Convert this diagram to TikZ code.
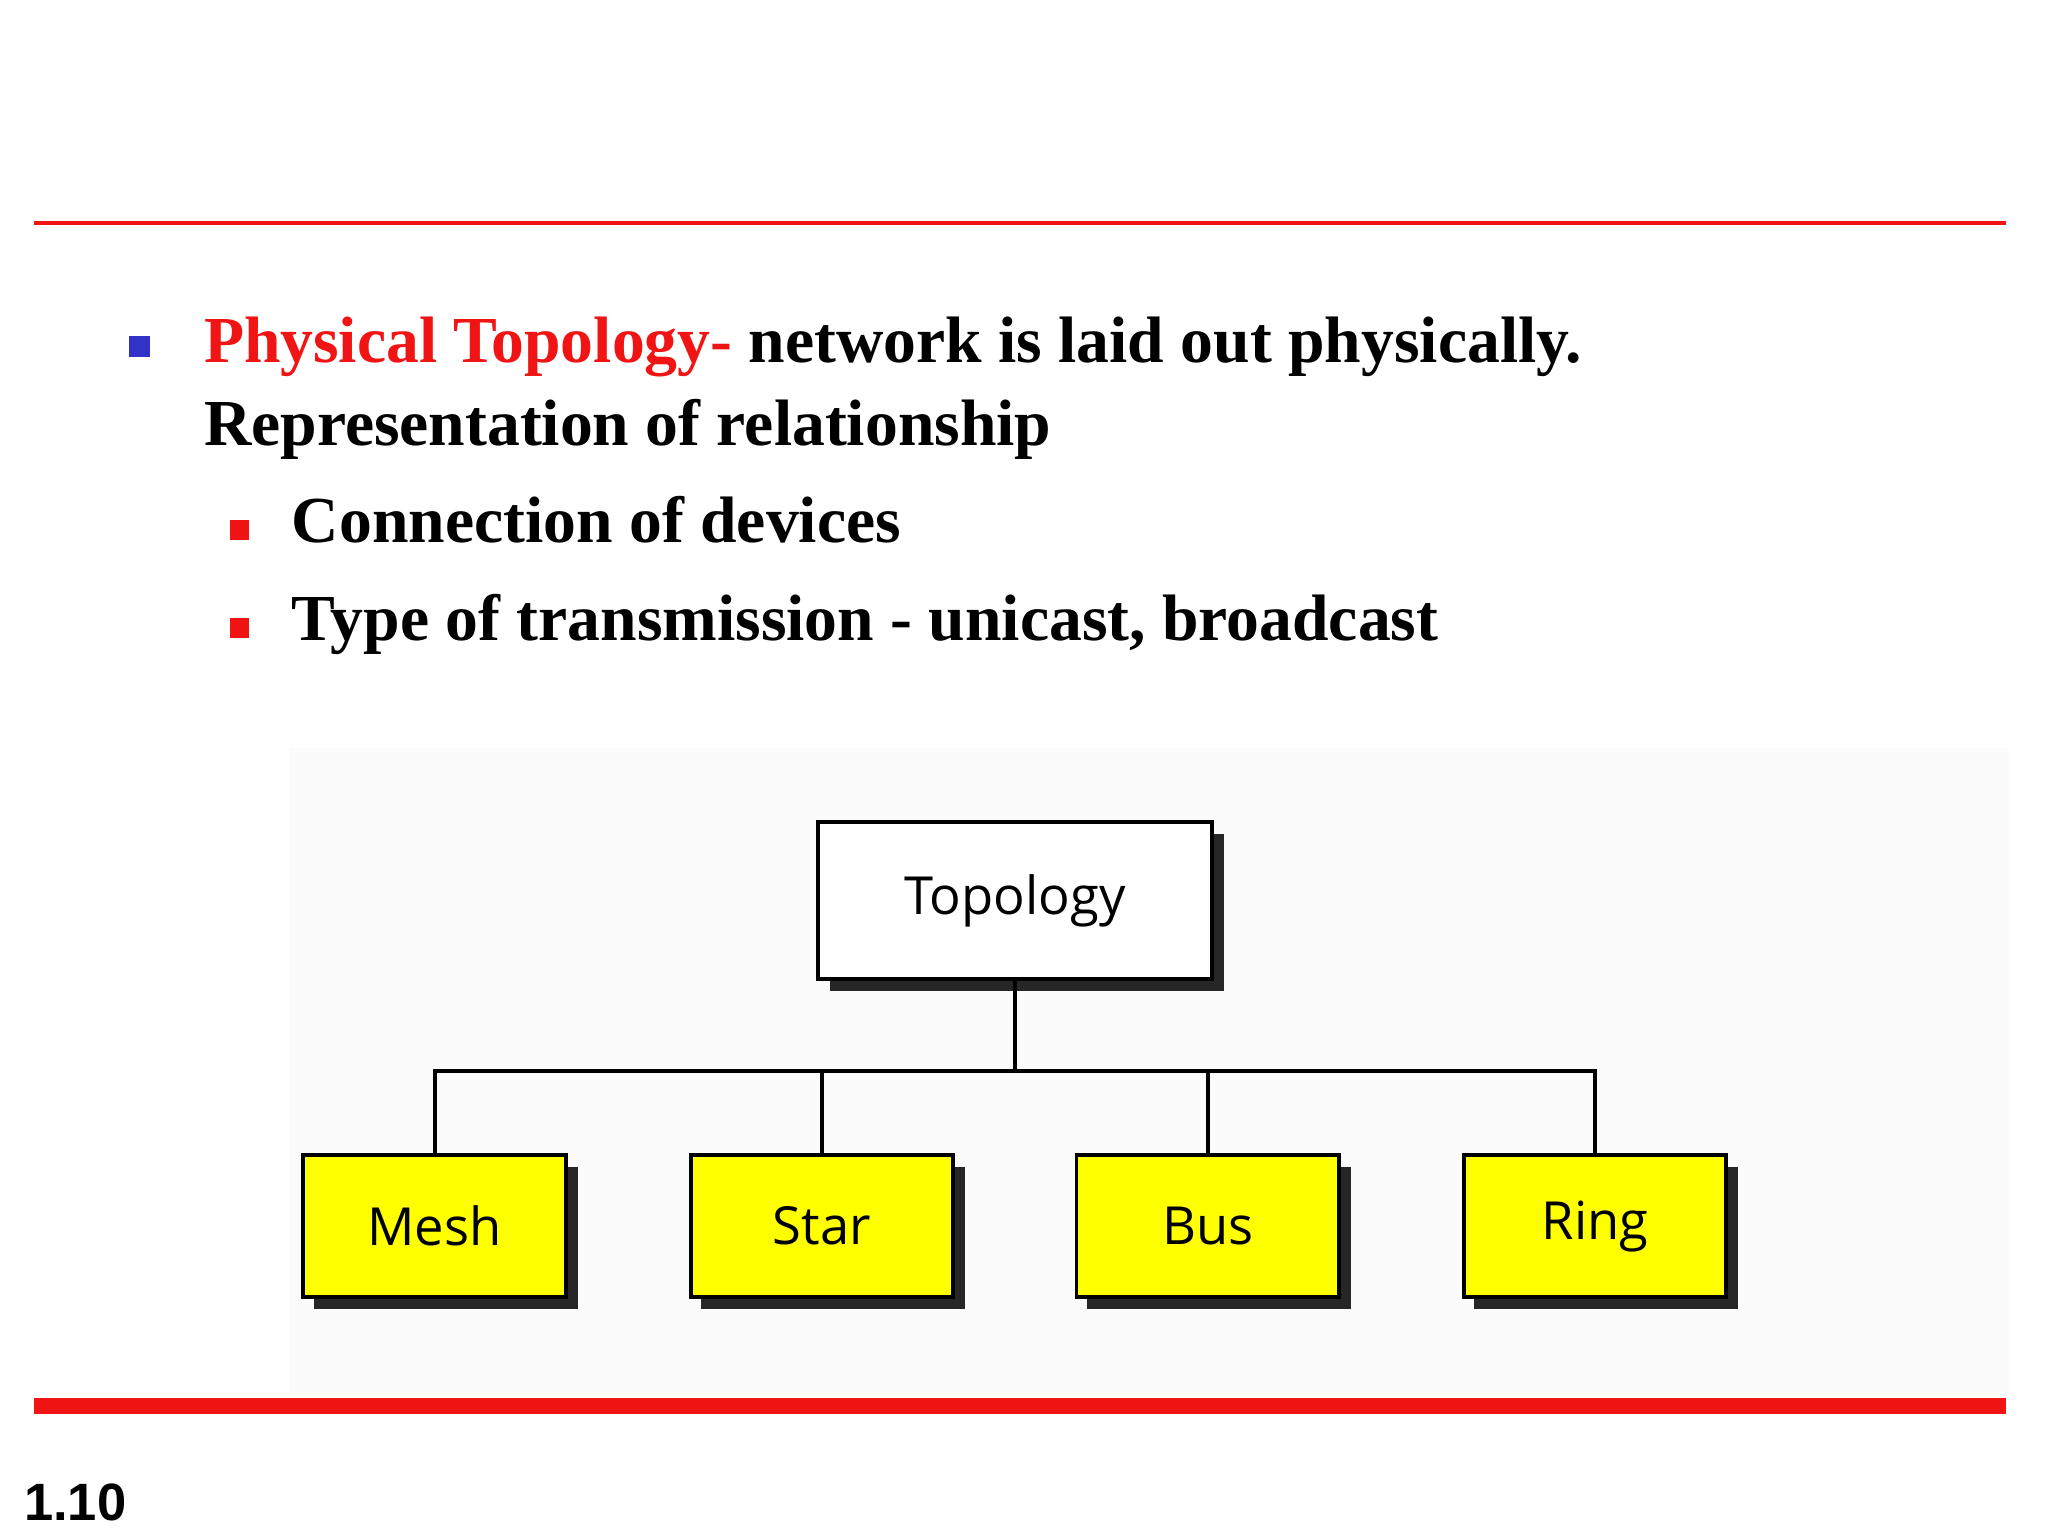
\documentclass[tikz,border=0pt]{standalone}
\usepackage{fontspec}
\setmainfont{Liberation Serif}
\newfontfamily\boxfont{Open Sans}
\newfontfamily\numfont{Liberation Sans}
\definecolor{ttlred}{RGB}{240,20,20}
\definecolor{bblue}{RGB}{50,50,200}
\definecolor{boxyel}{RGB}{255,255,0}
\begin{document}
\begin{tikzpicture}[x=0.5pt,y=-0.5pt,
  tbox/.style={draw=black,line width=1.5pt,inner sep=0pt,font=\boxfont\fontsize{20}{24}\selectfont},
  shad/.style={fill=black!85},
  txt/.style={anchor=base west,inner sep=0pt,font=\bfseries\fontsize{25}{30}\selectfont}]
\useasboundingbox (0,0) rectangle (1560,1170);
\fill[white] (0,0) rectangle (1560,1170);
\fill[black!1.5] (220,570) rectangle (1530,1060);
\draw[ttlred,line width=1.5pt] (26,170) -- (1528,170);
\fill[ttlred] (26,1065) rectangle (1528,1077);
% bullets
\fill[bblue] (98,256) rectangle (114,272);
\fill[ttlred] (175,396) rectangle (190,411);
\fill[ttlred] (175,471) rectangle (190,486);
\node[txt] (l1) at (155,276) {\textcolor{ttlred}{Physical Topology-} network is laid out physically.};
\node[txt] (l2) at (155,339) {Representation of relationship};
\node[txt] (l3) at (222,413) {Connection of devices};
\node[txt] (l4) at (222,488) {Type of transmission - unicast, broadcast};
\node[anchor=base west,inner sep=0pt,font=\numfont\bfseries\fontsize{20}{24}\selectfont] (pg) at (18,1158) {1.10};
% boxes
\fill[shad] (632,635) rectangle (932,755);
\node[tbox,fill=white,minimum width=150pt,minimum height=60pt] (top) at (773,686) {Topology};
\foreach \n/\t/\x in {mesh/Mesh/331,star/Star/626,bus/Bus/920,ring/Ring/1215}{
  \fill[shad] (\x-92,889) rectangle (\x+109,997);
  \node[tbox,fill=boxyel,minimum width=100pt,minimum height=54pt] (\n) at (\x,934) {\t};
}
\coordinate (hub) at (773,816);
\draw[line width=1.5pt] (top.south) -- (hub);
\draw[line width=1.5pt] (mesh.north) |- (ring.north |- hub) -- (ring.north);
\draw[line width=1.5pt] (star.north) -- (star.north |- hub);
\draw[line width=1.5pt] (bus.north) -- (bus.north |- hub);
\end{tikzpicture}
\end{document}
